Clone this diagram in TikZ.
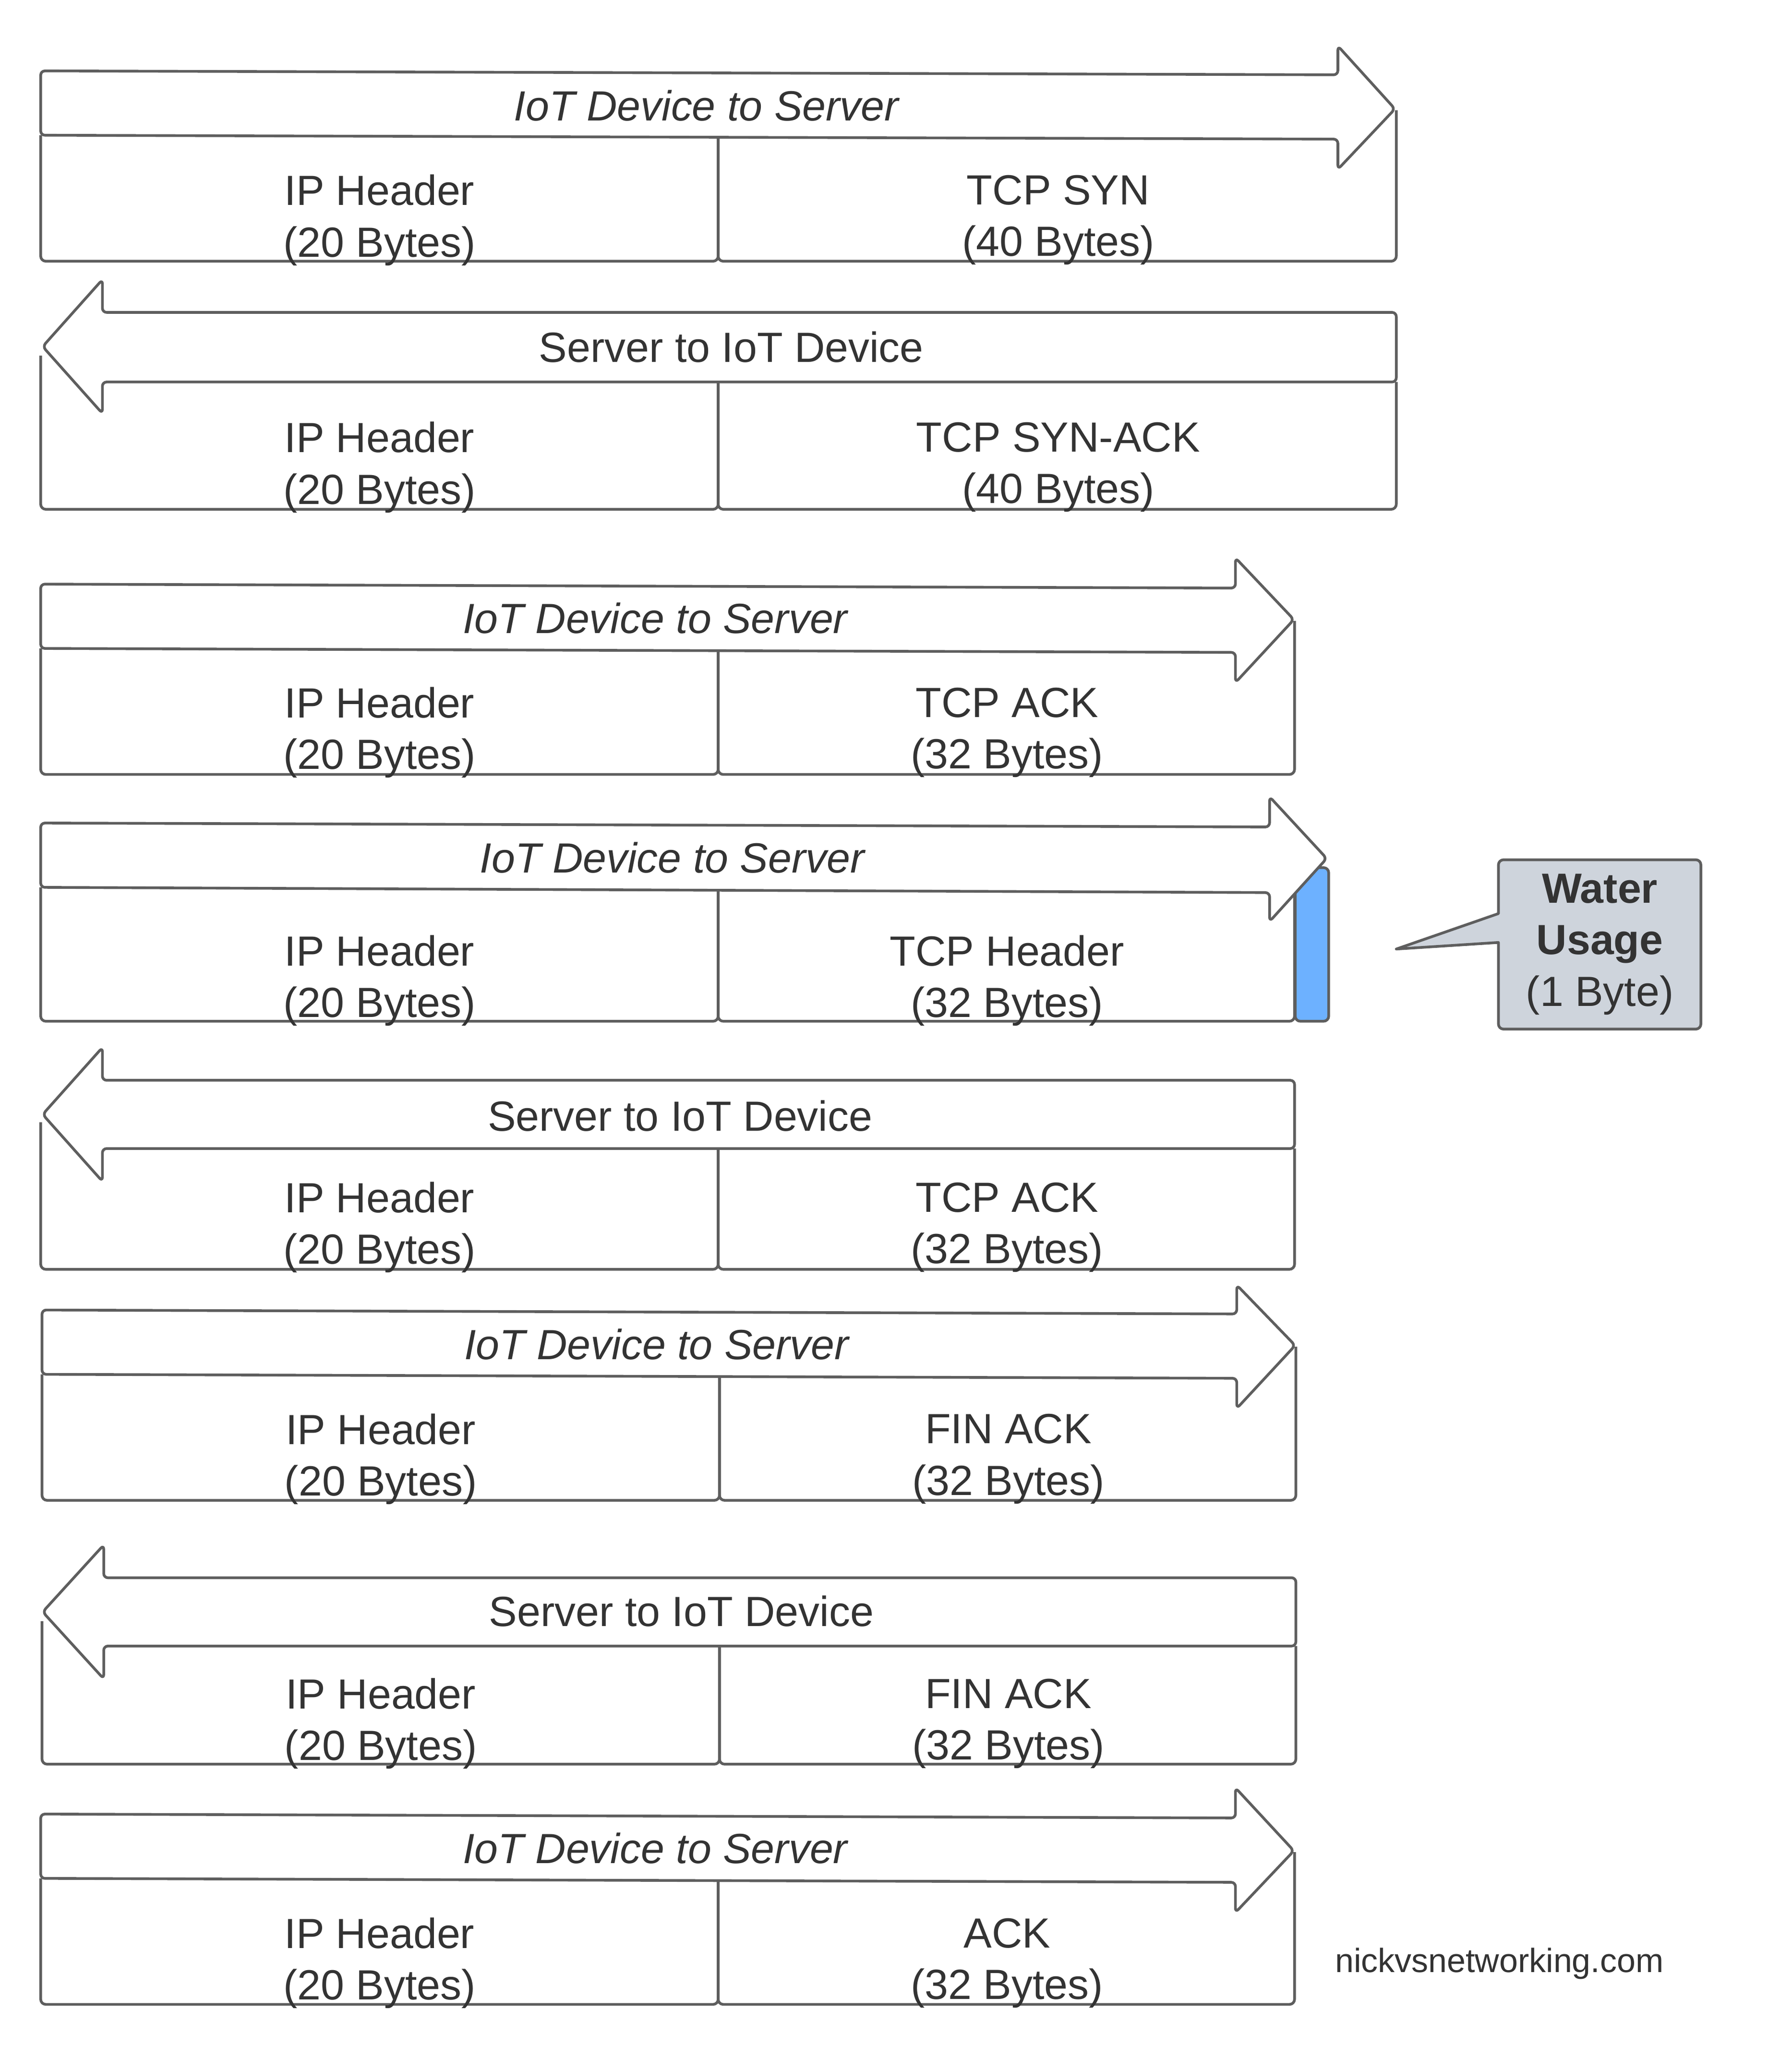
\documentclass[tikz,border=0pt]{standalone}
\usepackage{fontspec}
\setmainfont{Liberation Sans}
\definecolor{ln}{HTML}{5E5E5E}
\definecolor{tx}{HTML}{333333}
\definecolor{blu}{HTML}{6DB1FF}
\definecolor{cal}{HTML}{CED4DC}
\tikzset{
  shapeline/.style={draw=ln,line width=1.6pt,rounded corners=3pt,line join=round},
  arrowshape/.style={shapeline,fill=white,rounded corners=2.5pt},
  lbl/.style={text=tx,inner sep=0pt,align=center,font=\fontsize{25}{30.5}\selectfont},
  dirlbl/.style={text=tx,inner sep=0pt,font=\fontsize{25}{30.5}\selectfont},
  dirlbli/.style={dirlbl,font=\fontsize{25}{30.5}\selectfont\itshape},
}
% boxes: L M R leftTop midTop rightTop bottom
\newcommand{\cells}[7]{%
  \draw[shapeline] (#1,#4) -- (#1,#7) -- (#2,#7) -- (#2,#5);
  \draw[shapeline] (#2,#5) -- (#2,#7) -- (#3,#7) -- (#3,#6);
}
% right arrow: L topL X topR headTop tipX tipY headBot lowR lowL
\newcommand{\rarrow}[9]{\def\aL{#1}\def\aTL{#2}\def\aX{#3}\def\aTR{#4}\def\aHT{#5}\def\aTX{#6}\def\aTY{#7}\def\aHB{#8}\def\aLR{#9}\rarrowc}
\newcommand{\rarrowc}[1]{%
  \draw[arrowshape] (\aL,\aTL) -- (\aX,\aTR) -- (\aX,\aHT) -- (\aTX,\aTY) -- (\aX,\aHB) -- (\aX,\aLR) -- (\aL,#1) -- cycle;
}
% left arrow: L-tip tipY X headTop headBot top low right
\newcommand{\larrow}[8]{%
  \draw[arrowshape] (#1,#2) -- (#3,#4) -- (#3,#6) -- (#8,#6) -- (#8,#7) -- (#3,#7) -- (#3,#5) -- cycle;
}
\begin{document}
\begin{tikzpicture}[x=0.02735cm,y=-0.02735cm]
\useasboundingbox (0,0) rectangle (1364.9,1567.1);
\fill[white] (0,0) rectangle (1364.9,1567.1);
% row 1
\cells{31}{547}{1063.5}{103}{103}{84}{199}
\rarrow{31}{54}{1019}{57}{35}{1062.5}{83}{129}{106}{103}
\node[dirlbli] (d1) at (538,80.5) {IoT Device to Server};
\node[lbl] (a1) at (289,167.7) {IP Header\\(20 Bytes)};
\node[lbl] (b1) at (806,167.7) {TCP SYN\\(40 Bytes)};
% row 2
\cells{31}{547}{1063.5}{271}{291}{291}{388}
\larrow{32.5}{264}{78}{213}{315}{238}{291}{1063.5}
\node[dirlbl] (d2) at (557,264.5) {Server to IoT Device};
\node[lbl] (a2) at (289,356) {IP Header\\(20 Bytes)};
\node[lbl] (b2) at (806,356) {TCP SYN-ACK\\(40 Bytes)};
% row 3
\cells{31}{547}{986}{494}{496}{473}{590}
\rarrow{31}{445}{941}{448}{425}{985.5}{472}{520}{497}{494}
\node[dirlbli] (d3) at (499,471) {IoT Device to Server};
\node[lbl] (a3) at (289,558) {IP Header\\(20 Bytes)};
\node[lbl] (b3) at (767,558) {TCP ACK\\(32 Bytes)};
% row 4
\cells{31}{547}{986}{676}{678}{680}{778}
\draw[shapeline,fill=blu] (986.5,778) -- (986.5,661) -- (1012,661) -- (1012,778) -- cycle;
\rarrow{31}{627}{967}{630}{607}{1010.5}{654}{702}{680}{676}
\node[dirlbli] (d4) at (512,653.5) {IoT Device to Server};
\node[lbl] (a4) at (289,747) {IP Header\\(20 Bytes)};
\node[lbl] (b4) at (767,747) {TCP Header\\(32 Bytes)};
% callout
\draw[shapeline,fill=cal] (1141.3,696) [sharp corners] -- (1063.5,723) -- (1141.3,718) [rounded corners=3pt] -- (1141.3,784) -- (1295.5,784) -- (1295.5,655) -- (1141.3,655) [sharp corners] -- cycle;
\node[lbl] (c1) at (1218.5,719.5) {\textbf{Water}\\\textbf{Usage}\\(1 Byte)};
% row 5
\cells{31}{547}{986}{855}{875}{875}{967}
\larrow{32.5}{849}{78}{798}{900}{823}{875}{986}
\node[dirlbl] (d5) at (518,850) {Server to IoT Device};
\node[lbl] (a5) at (289,935) {IP Header\\(20 Bytes)};
\node[lbl] (b5) at (767,935) {TCP ACK\\(32 Bytes)};
% row 6
\cells{32}{548}{987}{1047}{1049}{1026}{1143}
\rarrow{32}{998}{942}{1001}{979}{986.5}{1025}{1073}{1050}{1047}
\node[dirlbli] (d6) at (500,1024) {IoT Device to Server};
\node[lbl] (a6) at (290,1111.5) {IP Header\\(20 Bytes)};
\node[lbl] (b6) at (768,1111.5) {FIN ACK\\(32 Bytes)};
% row 7
\cells{32}{548}{987}{1235}{1254}{1254}{1344}
\larrow{32.5}{1228}{79}{1177}{1279}{1202}{1254}{987}
\node[dirlbl] (d7) at (519,1227.5) {Server to IoT Device};
\node[lbl] (a7) at (290,1313) {IP Header\\(20 Bytes)};
\node[lbl] (b7) at (768,1313) {FIN ACK\\(32 Bytes)};
% row 8
\cells{31}{547}{986}{1431}{1433}{1411}{1527}
\rarrow{31}{1382}{941}{1385}{1362}{985.5}{1410}{1457}{1434}{1431}
\node[dirlbli] (d8) at (499,1408) {IoT Device to Server};
\node[lbl] (a8) at (289,1495.5) {IP Header\\(20 Bytes)};
\node[lbl] (b8) at (767,1495.5) {ACK\\(32 Bytes)};
% footer
\node[text=tx,inner sep=0pt,font=\fontsize{19.9}{24}\selectfont] (f) at (1142,1496) {nickvsnetworking.com};
\end{tikzpicture}
\end{document}
